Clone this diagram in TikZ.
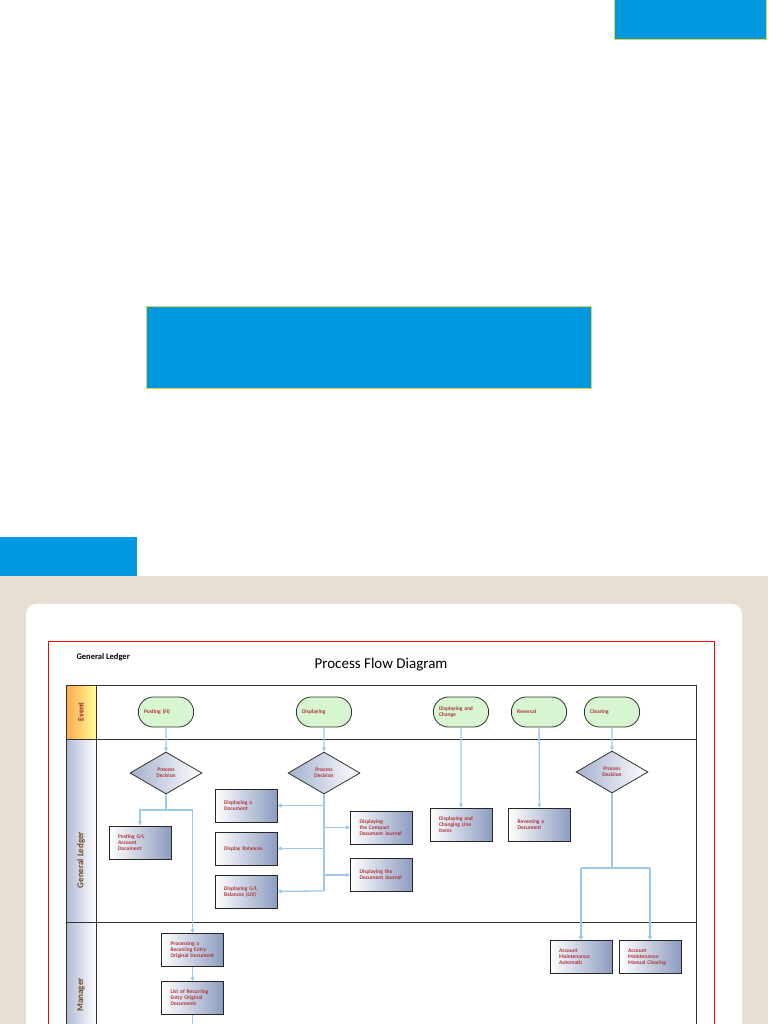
\documentclass[tikz,border=0pt]{standalone}
\usepackage{fontspec}
\setmainfont{Carlito}
\usetikzlibrary{shapes.geometric,shapes.misc,arrows.meta}
\definecolor{topblue}{HTML}{0099E0}
\definecolor{beige}{HTML}{E6DFD3}
\definecolor{boxblue}{HTML}{8C9CC0}
\definecolor{txtred}{HTML}{B0353A}
\definecolor{conn}{HTML}{9CC8EE}
\definecolor{evgreen}{HTML}{D6F5D0}
\tikzset{
 blk/.style={fill=topblue,draw={rgb,255:red,230;green,215;blue,60},line width=1pt},
 ev/.style={rounded rectangle,draw=black!80,line width=0.8pt,fill=evgreen,minimum width=62pt,minimum height=30pt,font=\bfseries\fontsize{5.5}{6}\selectfont,text=txtred,align=left,text width=44pt},
 dec/.style={diamond,draw=black!80,line width=0.8pt,left color=boxblue!80,right color=white,aspect=1.7,minimum width=72pt,minimum height=42pt,inner sep=0pt,font=\bfseries\fontsize{5.5}{6}\selectfont,text=txtred,align=center},
 pbox/.style={rectangle,draw=black!85,line width=1pt,left color=white,right color=boxblue,minimum width=62pt,minimum height=33pt,font=\bfseries\fontsize{5.5}{6}\selectfont,text=txtred,align=left,text width=44pt,inner sep=2pt},
 cn/.style={draw=conn,line width=1.3pt},
 ca/.style={cn,-{Triangle[length=4pt,width=4pt]}},
 lane/.style={draw=black!80,line width=1pt},
}
\begin{document}
\begin{tikzpicture}[x=1pt,y=-1pt]
\hyphenpenalty=10000
\useasboundingbox (0,0) rectangle (768,1024);
\fill[white] (0,0) rectangle (768,1024);
\draw[blk] (614,0) rectangle (766,40);
\draw[blk] (146,306) rectangle (591,388);
\fill[topblue] (0,537) rectangle (137,576);
\fill[beige] (0,576) rectangle (768,1024);
\fill[white,rounded corners=10pt] (26,604) rectangle (742,1040);
\draw[red,line width=1pt] (48,641) rectangle (714,1030);
\node[anchor=west,font=\bfseries\fontsize{8.5}{9}\selectfont] (tgl) at (73,657) {General Ledger};
\node[font=\fontsize{15}{16}\selectfont] (title) at (381,665) {Process Flow Diagram};
% lanes
\fill[left color=orange!70,right color=yellow!40] (66,685) rectangle (96,739);
\fill[left color=boxblue!70,right color=white] (66,739) rectangle (96,922);
\fill[left color=boxblue!70,right color=white] (66,922) rectangle (96,1030);
\draw[lane] (66,1030) -- (66,685) -- (696,685) -- (696,1030);
\draw[lane] (96,685) -- (96,1030);
\draw[lane] (66,739) -- (696,739);
\draw[lane] (66,922) -- (696,922);
\node[rotate=90,font=\bfseries\fontsize{8}{9}\selectfont,text=txtred!80!black] (lev) at (81,712) {Event};
\node[rotate=90,font=\bfseries\fontsize{9}{10}\selectfont,text=brown!60!black] (lgl) at (81,860) {General Ledger};
\node[rotate=90,font=\bfseries\fontsize{9}{10}\selectfont,text=brown!60!black] (lmg) at (81,995) {Manager};
% events
\node[ev] (e1) at (166,712) {Posting (FI)};
\node[ev] (e2) at (324,712) {Displaying};
\node[ev] (e3) at (461,712) {Displaying and Change};
\node[ev] (e4) at (539,712) {Reversal};
\node[ev] (e5) at (612,712) {Clearing};
% decisions
\node[dec] (d1) at (166,773) {Process\\Decision};
\node[dec] (d2) at (324,773) {Process\\Decision};
\node[dec] (d3) at (612,772) {Process\\Decision};
% boxes
\node[pbox] (b1) at (140,842.5) {Posting G/L Account Document};
\node[pbox] (b2) at (246,805.5) {Displaying a Document};
\node[pbox] (b3) at (246,848.5) {Display Balances};
\node[pbox] (b4) at (246,891.5) {Displaying G/L Balances (LIX)};
\node[pbox] (b5) at (381.5,827.5) {Displaying the Compact Document Journal};
\node[pbox] (b6) at (381.5,875) {Displaying the Document Journal};
\node[pbox] (b7) at (461,824.5) {Displaying and Changing Line Items};
\node[pbox] (b8) at (539.5,824.5) {Reversing a Document};
\node[pbox] (b9) at (581,957) {Account Maintenance: Automatic};
\node[pbox] (b10) at (650,957) {Account Maintenance: Manual Clearing};
\node[pbox] (b11) at (192.5,950) {Processing a Recurring Entry Original Document};
\node[pbox] (b12) at (192.5,998) {List of Recurring Entry Original Documents};
% connectors
\coordinate (j1) at (166,810);
\coordinate (j2) at (324,891);
\coordinate (j3) at (612,868);
\coordinate (lst) at (192.5,1030);
\draw[ca] (e1) -- (d1);
\draw[cn] (d1) -- (j1);
\draw[ca] (j1) -| (b11.north);
\draw[ca] (j1) -| (b1.north);
\draw[ca] (b11) -- (b12);
\draw[cn] (b12) -- (lst);
\draw[ca] (e2) -- (d2);
\draw[cn] (d2) -- (j2);
\draw[ca] (d2 |- b2) -- (b2);
\draw[ca] (d2 |- b3) -- (b3);
\draw[ca] (j2) -- (b4);
\draw[ca] (d2 |- b5) -- (b5);
\draw[ca] (d2 |- b6) -- (b6);
\draw[ca] (e3) -- (b7);
\draw[ca] (e4) -- (b8);
\draw[ca] (e5) -- (d3);
\draw[cn] (d3) -- (j3);
\draw[cn] (b9.north |- j3) -- (b10.north |- j3);
\draw[ca] (b9.north |- j3) -- (b9);
\draw[ca] (b10.north |- j3) -- (b10);
\end{tikzpicture}
\end{document}
